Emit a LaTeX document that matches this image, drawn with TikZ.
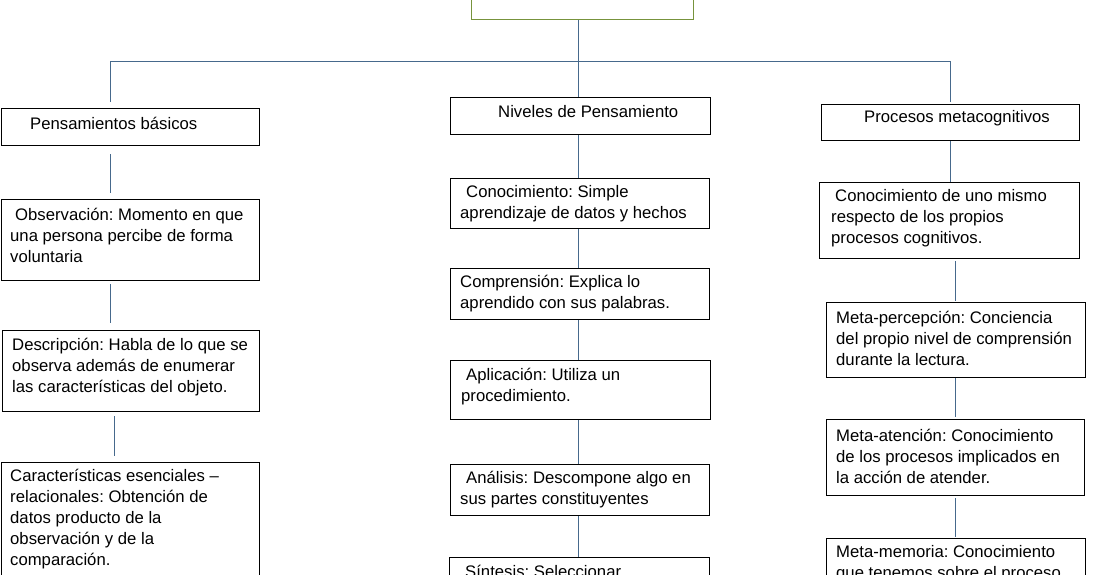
\documentclass[tikz,border=0pt]{standalone}
\usepackage{fontspec}
\setmainfont{Liberation Sans}
\usetikzlibrary{calc}
\frenchspacing
\definecolor{linkblue}{RGB}{70,105,140}
\definecolor{rootgreen}{RGB}{119,147,60}
\newcommand{\mapfont}{\fontsize{16.7pt}{21pt}\selectfont}
\tikzset{
    my-box/.style={
        draw, rectangle, anchor=north west, inner sep=0pt, line width=1pt
    },
    my-text/.style={
        anchor=west, inner sep=0pt, align=left, font=\mapfont
    },
    my-link/.style={
        draw=linkblue, line width=1pt
    },
}

\begin{document}
\begin{tikzpicture}[x=1pt, y=-1pt]

        \useasboundingbox (0,0) rectangle (1093,574);
        \clip (0,0) rectangle (1093,574);

        % COLUMN COORDINATES
        \coordinate (colL)  at (110,0);
        \coordinate (colL2) at (114,0);
        \coordinate (colM)  at (578,0);
        \coordinate (colR)  at (950,0);
        \coordinate (colR2) at (955,0);
        \coordinate (BUS)   at (578,61);

        % ROOT BOX -------------------------------------------------------------------------------------
        \node[my-box, draw=rootgreen, minimum width=222, minimum height=39] (ROOT) at (471,-20) {};

        % TITLE BOXES
        \node[my-box, minimum width=258, minimum height=37] (PB)  at (0.5,108) {};
        \node[my-box, minimum width=260, minimum height=37] (NIV) at (450,97)  {};
        \node[my-box, minimum width=258, minimum height=36] (PRO) at (821,104) {};
        \node[my-text] (PBtext)  at ($(PB.north west)  + (29.5, 15.5)$) {Pensamientos básicos};
        \node[my-text] (NIVtext) at ($(NIV.north west) + (48, 15)$)     {Niveles de Pensamiento};
        \node[my-text] (PROtext) at ($(PRO.north west) + (43, 14)$)     {Procesos metacognitivos};

        % PENSAMIENTOS BASICOS -------------------------------------------------------------------------
        \node[my-box, minimum width=258.5, minimum height=81]  (OBS) at (0.5,199) {};
        \node[my-box, minimum width=257,   minimum height=81]  (DES) at (2,330)   {};
        \node[my-box, minimum width=258.5, minimum height=130] (CAR) at (0.5,462) {};
        \node[my-text] (OBStext) at ($(OBS.north west) + (9.5, 36.5)$)
            {\hspace*{5pt}Observación: Momento en que\\una persona percibe de forma\\voluntaria};
        \node[my-text] (DEStext) at ($(DES.north west) + (10, 37)$)
            {Descripción: Habla de lo que se\\observa además de enumerar\\las características del objeto.};
        \node[my-text] (CARtext) at ($(CAR.north west) + (9.5, 57.5)$)
            {Características esenciales –\\relacionales: Obtención de\\datos producto de la\\observación y de la\\comparación.};

        % NIVELES DE PENSAMIENTO -----------------------------------------------------------------------
        \node[my-box, minimum width=259, minimum height=50] (CON) at (450,178) {};
        \node[my-box, minimum width=259, minimum height=51] (COM) at (450,268) {};
        \node[my-box, minimum width=260, minimum height=59] (APL) at (450,360) {};
        \node[my-box, minimum width=259, minimum height=51] (ANA) at (450,464) {};
        \node[my-box, minimum width=260, minimum height=60] (SIN) at (449,557) {};
        \node[my-text] (CONtext) at ($(CON.north west) + (10, 25.5)$)
            {\hspace*{6pt}Conocimiento: Simple\\aprendizaje de datos y hechos};
        \node[my-text] (COMtext) at ($(COM.north west) + (10, 25.5)$)
            {Comprensión: Explica lo\\aprendido con sus palabras.};
        \node[my-text] (APLtext) at ($(APL.north west) + (11, 26.5)$)
            {\hspace*{5pt}Aplicación: Utiliza un\\procedimiento.};
        \node[my-text] (ANAtext) at ($(ANA.north west) + (10, 25.5)$)
            {\hspace*{6pt}Análisis: Descompone algo en\\sus partes constituyentes};
        \node[my-text] (SINtext) at ($(SIN.north west) + (16, 14)$)
            {Síntesis: Seleccionar};

        % PROCESOS METACOGNITIVOS ----------------------------------------------------------------------
        \node[my-box, minimum width=260, minimum height=76] (CUM) at (819,182) {};
        \node[my-box, minimum width=259, minimum height=75] (MPE) at (826,302) {};
        \node[my-box, minimum width=258, minimum height=76] (MAT) at (826,419) {};
        \node[my-box, minimum width=259, minimum height=70] (MME) at (826,538) {};
        \node[my-text] (CUMtext) at ($(CUM.north west) + (12, 36)$)
            {\hspace*{4pt}Conocimiento de uno mismo\\respecto de los propios\\procesos cognitivos.};
        \node[my-text] (MPEtext) at ($(MPE.north west) + (10, 36)$)
            {Meta-percepción: Conciencia\\del propio nivel de comprensión\\durante la lectura.};
        \node[my-text] (MATtext) at ($(MAT.north west) + (10, 37)$)
            {Meta-atención: Conocimiento\\de los procesos implicados en\\la acción de atender.};
        \node[my-text] (MMEtext) at ($(MME.north west) + (10, 25.5)$)
            {Meta-memoria: Conocimiento\\que tenemos sobre el proceso};

        % TOP CONNECTORS
        \draw[my-link] (ROOT.south -| colM) -- (NIV.north -| colM);
        \draw[my-link, shorten <=6pt] (PB.north -| colL) |- (BUS);
        \draw[my-link, shorten <=2pt] (PRO.north -| colR) |- (BUS);

        % LEFT COLUMN CONNECTORS
        \draw[my-link, shorten <=8pt, shorten >=6pt] (PB.south -| colL)   -- (OBS.north -| colL);
        \draw[my-link, shorten <=3pt, shorten >=7pt] (OBS.south -| colL)  -- (DES.north -| colL);
        \draw[my-link, shorten <=4pt, shorten >=6pt] (DES.south -| colL2) -- (CAR.north -| colL2);

        % MIDDLE COLUMN CONNECTORS
        \draw[my-link] (NIV.south -| colM) -- (CON.north -| colM);
        \draw[my-link] (CON.south -| colM) -- (COM.north -| colM);
        \draw[my-link] (COM.south -| colM) -- (APL.north -| colM);
        \draw[my-link] (APL.south -| colM) -- (ANA.north -| colM);
        \draw[my-link] (ANA.south -| colM) -- (SIN.north -| colM);

        % RIGHT COLUMN CONNECTORS
        \draw[my-link] (PRO.south -| colR) -- (CUM.north -| colR);
        \draw[my-link, shorten <=2pt, shorten >=1pt] (CUM.south -| colR2) -- (MPE.north -| colR2);
        \draw[my-link, shorten >=2pt]                (MPE.south -| colR2) -- (MAT.north -| colR2);
        \draw[my-link, shorten <=2pt, shorten >=1pt] (MAT.south -| colR2) -- (MME.north -| colR2);

    \end{tikzpicture}
\end{document}
